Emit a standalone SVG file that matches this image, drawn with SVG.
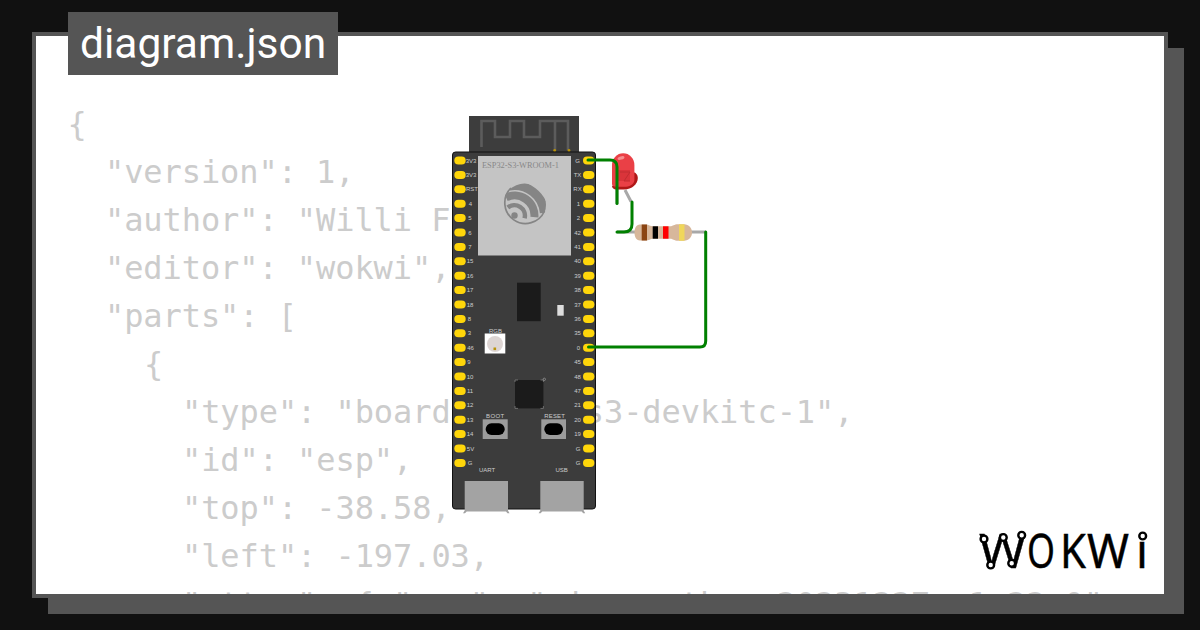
<svg xmlns="http://www.w3.org/2000/svg" width="1200" height="630" viewBox="0 0 1200 630">
<style>
.code{font-family:"DejaVu Sans Mono","Liberation Mono",monospace;font-size:32px;letter-spacing:-.08px;fill:#ccc}
.title{font-family:Roboto,"Liberation Sans",sans-serif;font-size:42.5px;fill:#fff}
.pl{font-family:"Liberation Sans",Arial,sans-serif;font-size:6px;fill:#ccc;text-anchor:middle}
.pin{fill:#ffd60a}
.wire{fill:none;stroke:#008000;stroke-width:3;stroke-linecap:round;stroke-linejoin:round}
.lead{fill:none;stroke:#a8a8a8;stroke-width:3}
.btn{fill:#9c9c9c}
.pill{fill:#000}
.usb{fill:#a3a3a3}
.chip{fill:#1b1b1b}
.mark{fill:none;stroke:#888;stroke-width:.7}
.logo{fill:none;stroke:#858585}
.wk{font-family:"Noto Sans",sans-serif;font-size:47px;fill:#000;stroke:#000;stroke-width:.4}
.node{fill:#fff;stroke:#000;stroke-width:2.4}
</style>
<defs>
<rect id="p" class="pin" x="-5.7" y="-4" width="11.4" height="8" rx="4"/>
<clipPath id="panel"><rect x="36" y="36" width="1128" height="558"/></clipPath>
<clipPath id="logoClip"><circle cx="524.5" cy="205" r="21.5"/></clipPath>
</defs>
<rect width="1200" height="630" fill="#111"/>
<rect x="48" y="48" width="1136" height="566" fill="#555"/>
<rect x="32" y="32" width="1136" height="566" fill="#555"/>
<rect x="36" y="36" width="1128" height="558" fill="#fff"/>
<g id="code" clip-path="url(#panel)" opacity=".99">
<text class="code" x="67.5" y="135">{</text>
<text class="code" x="105" y="183">"version": 1,</text>
<text class="code" x="105" y="231">"author": "Willi F</text>
<text class="code" x="105" y="279">"editor": "wokwi",</text>
<text class="code" x="105" y="327">"parts": [</text>
<text class="code" x="144" y="375">{</text>
<text class="code" x="182" y="423">"type": "board</text>
<text class="code" x="584.8" y="423">s3-devkitc-1",</text>
<text class="code" x="182" y="471">"id": "esp",</text>
<text class="code" x="182" y="519">"top": -38.58,</text>
<text class="code" x="182" y="567">"left": -197.03,</text>
<text class="code" x="182" y="615">"attrs": { "env": "micropython-20231227-v1.22.0"</text>
</g>
<g id="title">
<rect x="68" y="12" width="270" height="63" fill="#555"/>
<text class="title" x="80" y="58">diagram.json</text>
</g>
<g id="esp">
<rect x="469" y="116" width="110" height="37" fill="#3d3d3d"/>
<path d="M481.5 147V121H495V137H510V121H524V137H540V121H568V150M555 121V150" fill="none" stroke="#5c5c5c" stroke-width="2.6"/>
<circle cx="554.7" cy="150.5" r="1.4" fill="#b8920a"/>
<circle cx="569" cy="150.5" r="1.4" fill="#b8920a"/>
<rect x="452.5" y="152" width="143" height="357" rx="3" fill="#3c3c3c" stroke="#111" stroke-width="1"/>
<rect x="478" y="156" width="93" height="99.5" fill="#c4c4c4"/>
<text x="482" y="168" font-family="Liberation Serif,serif" font-size="8" fill="#888" textLength="77" lengthAdjust="spacingAndGlyphs">ESP32-S3-WROOM-1</text>
<g class="logo">
<path d="M511 188A20.7 20.7 0 1 0 544.5 211" stroke-width="1.7"/>
<g clip-path="url(#logoClip)">
<path d="M509.3 186A30 30 0 0 1 544.4 212.9" stroke-width="9"/>
<path d="M506 197.4A20 20 0 0 1 534.4 217.2" stroke-width="8"/>
<path d="M507.8 207.5A10.5 10.5 0 0 1 524.6 218.2" stroke-width="4.5"/>
</g>
</g>
<circle cx="514.5" cy="215.5" r="3.2" fill="#858585"/>
<g>
<use href="#p" x="460" y="160.5"/><use href="#p" x="460" y="175"/><use href="#p" x="460" y="189.3"/><use href="#p" x="460" y="203.7"/><use href="#p" x="460" y="218.1"/><use href="#p" x="460" y="232.5"/><use href="#p" x="460" y="246.9"/><use href="#p" x="460" y="261.3"/><use href="#p" x="460" y="275.7"/><use href="#p" x="460" y="290.1"/><use href="#p" x="460" y="304.5"/><use href="#p" x="460" y="318.9"/><use href="#p" x="460" y="333.3"/><use href="#p" x="460" y="347.7"/><use href="#p" x="460" y="362.1"/><use href="#p" x="460" y="376.5"/><use href="#p" x="460" y="390.9"/><use href="#p" x="460" y="405.3"/><use href="#p" x="460" y="419.7"/><use href="#p" x="460" y="434.1"/><use href="#p" x="460" y="448.5"/><use href="#p" x="460" y="463"/>
<use href="#p" x="588.7" y="160.5"/><use href="#p" x="588.7" y="175"/><use href="#p" x="588.7" y="189.3"/><use href="#p" x="588.7" y="203.7"/><use href="#p" x="588.7" y="218.1"/><use href="#p" x="588.7" y="232.5"/><use href="#p" x="588.7" y="246.9"/><use href="#p" x="588.7" y="261.3"/><use href="#p" x="588.7" y="275.7"/><use href="#p" x="588.7" y="290.1"/><use href="#p" x="588.7" y="304.5"/><use href="#p" x="588.7" y="318.9"/><use href="#p" x="588.7" y="333.3"/><use href="#p" x="588.7" y="347.7"/><use href="#p" x="588.7" y="362.1"/><use href="#p" x="588.7" y="376.5"/><use href="#p" x="588.7" y="390.9"/><use href="#p" x="588.7" y="405.3"/><use href="#p" x="588.7" y="419.7"/><use href="#p" x="588.7" y="434.1"/><use href="#p" x="588.7" y="448.5"/><use href="#p" x="588.7" y="463"/>
</g>
<g>
<text class="pl" x="471" y="162.5">3V3</text><text class="pl" x="471" y="177">3V3</text><text class="pl" x="472" y="191.3">RST</text><text class="pl" x="470.5" y="205.7">4</text><text class="pl" x="470" y="220.1">5</text><text class="pl" x="470" y="234.5">6</text><text class="pl" x="470" y="248.9">7</text><text class="pl" x="470" y="263.3">15</text><text class="pl" x="470" y="277.7">16</text><text class="pl" x="470" y="292.1">17</text><text class="pl" x="470" y="306.5">18</text><text class="pl" x="469.5" y="320.9">8</text><text class="pl" x="469.5" y="335.3">3</text><text class="pl" x="470.5" y="349.7">46</text><text class="pl" x="469" y="364.1">9</text><text class="pl" x="470" y="378.5">10</text><text class="pl" x="470" y="392.9">11</text><text class="pl" x="470" y="407.3">12</text><text class="pl" x="470" y="421.7">13</text><text class="pl" x="470" y="436.1">14</text><text class="pl" x="470.5" y="450.5">5V</text><text class="pl" x="470" y="465">G</text>
<text class="pl" x="577.5" y="162.5">G</text><text class="pl" x="577.5" y="177">TX</text><text class="pl" x="577.5" y="191.3">RX</text><text class="pl" x="578.5" y="205.7">1</text><text class="pl" x="578.5" y="220.1">2</text><text class="pl" x="577.5" y="234.5">42</text><text class="pl" x="577.5" y="248.9">41</text><text class="pl" x="577.5" y="263.3">40</text><text class="pl" x="577.5" y="277.7">39</text><text class="pl" x="577.5" y="292.1">38</text><text class="pl" x="577.5" y="306.5">37</text><text class="pl" x="577.5" y="320.9">36</text><text class="pl" x="577.5" y="335.3">35</text><text class="pl" x="578.5" y="349.7">0</text><text class="pl" x="577.5" y="364.1">45</text><text class="pl" x="577.5" y="378.5">48</text><text class="pl" x="577.5" y="392.9">47</text><text class="pl" x="577.5" y="407.3">21</text><text class="pl" x="577.5" y="421.7">20</text><text class="pl" x="577.5" y="436.1">19</text><text class="pl" x="578" y="450.5">G</text><text class="pl" x="578" y="465">G</text>
</g>
<rect class="chip" x="517" y="282.7" width="23.7" height="38.5"/>
<rect x="557.3" y="305" width="6.4" height="10.7" fill="#ddd"/>
<text class="pl" x="495.5" y="333">RGB</text>
<rect x="484.7" y="333.5" width="20.6" height="20" fill="#fff"/>
<circle cx="495" cy="344" r="8" fill="#ddd5d3"/>
<rect x="493.5" y="347.5" width="2.6" height="2.6" fill="#b8920a"/>
<rect class="chip" x="515" y="380" width="28.4" height="28.4"/>
<path class="mark" d="M515 382V380H518M540.5 380H543.4V382M515 406V408.4H518M540.5 408.4H543.4V406"/>
<circle cx="544.3" cy="379.3" r="1.2" fill="none" stroke="#aaa" stroke-width=".6"/>
<text class="pl" x="495.3" y="418" letter-spacing=".4">BOOT</text>
<text class="pl" x="554.7" y="418" letter-spacing=".2">RESET</text>
<rect class="btn" x="482.7" y="419.3" width="25" height="19.7"/>
<rect class="pill" x="485.7" y="423.3" width="19" height="11.7" rx="5.8"/>
<rect class="btn" x="541.3" y="419.3" width="24.7" height="19.7"/>
<rect class="pill" x="544.3" y="423.3" width="18.7" height="11.7" rx="5.8"/>
<text class="pl" x="487" y="472">UART</text>
<text class="pl" x="561.7" y="472">USB</text>
<path class="usb" d="M464.7 481H508V510.5L509.5 513.3H507.5L506 511.5H466.7L465 513.3H463L464.7 510.5Z"/>
<path class="usb" d="M540.3 481H583.7V510.5L585.2 513.3H583.2L581.7 511.5H542.3L540.6 513.3H538.6L540.3 510.5Z"/>
</g>
<g id="led1">
<path class="lead" d="M617 186V204M625 190L631 201.5"/>
<path d="M632 172C636 172 637.8 175 637.8 178C637.8 184 632 189.5 624 189.5H616C614 189.5 612 188 612 186Z" fill="#b01818"/>
<path d="M612 184V165A11.2 11.7 0 0 1 634.4 165V180C634.4 183 631 186.7 626 186.7H616C614 186.7 612 186 612 184Z" fill="#ea4046"/>
<path d="M618 170H630V181H618Z" fill="#da343a"/>
<path d="M620 172H630L624 181H630" fill="none" stroke="#c22c30" stroke-width="1"/>
<ellipse cx="621" cy="158" rx="3.6" ry="1.7" fill="#f58f8f" transform="rotate(-18 621 158)"/>
</g>
<g id="r1">
<path class="lead" d="M617 232H637M690 232H706"/>
<path d="M640 224.5H646C649 224.5 650 226.3 653 226.3H670C673 226.3 674 224.3 678 224.3H684C689 224.3 692 228 692 232.5C692 237 689 240.7 684 240.7H678C674 240.7 673 238.7 670 238.7H653C650 238.7 649 240.5 646 240.5H640C636 240.5 634.5 236.5 634.5 232.5C634.5 228.5 636 224.5 640 224.5Z" fill="#d7b79b"/>
<rect x="641.7" y="224.5" width="5.3" height="16" fill="#8b4513"/>
<rect x="652.7" y="226.3" width="5.3" height="12.4" fill="#000"/>
<rect x="663" y="226.3" width="5.5" height="12.4" fill="#f00"/>
<rect x="679" y="224.3" width="5.5" height="16.4" fill="#f0d75a"/>
</g>
<g id="wires">
<path class="wire" d="M588 160H610Q617 160 617 167V203.5"/>
<path class="wire" d="M632 202V224Q632 232 624 232H617"/>
<path class="wire" d="M588.5 347H700Q705.7 347 705.7 341V232"/>
</g>
<g id="logo">
<text class="wk" x="979" y="568" textLength="47" lengthAdjust="spacingAndGlyphs">W</text>
<text class="wk" x="1027" y="568" textLength="28" lengthAdjust="spacingAndGlyphs">O</text>
<text class="wk" x="1060" y="568" textLength="26" lengthAdjust="spacingAndGlyphs">K</text>
<text class="wk" x="1087" y="568" textLength="42" lengthAdjust="spacingAndGlyphs">W</text>
<text class="wk" x="1136" y="568" textLength="12" lengthAdjust="spacingAndGlyphs">i</text>
<circle class="node" cx="984" cy="539" r="3.4"/>
<circle class="node" cx="1003.3" cy="537.5" r="3.4"/>
<circle class="node" cx="1021.7" cy="535.3" r="3.4"/>
<circle class="node" cx="990.7" cy="565" r="3.4"/>
<circle class="node" cx="1011.7" cy="563.3" r="3.4"/>
<circle class="node" cx="1142.7" cy="536" r="3.4"/>
</g>
</svg>
